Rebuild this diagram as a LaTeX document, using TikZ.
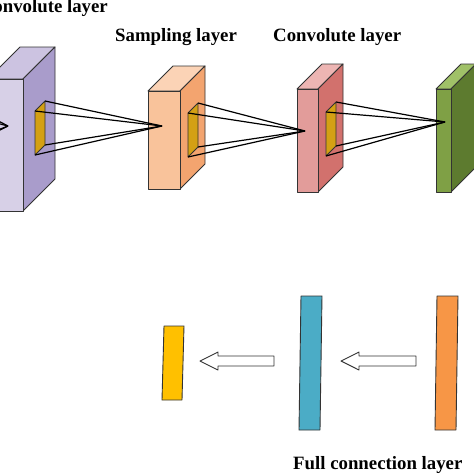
\documentclass[tikz,border=0pt]{standalone}
\usepackage{fontspec}
\setmainfont{Liberation Serif}

\definecolor{convafront}{HTML}{D7D0E7}
\definecolor{convaside}{HTML}{A99CCB}
\definecolor{convatop}{HTML}{CCC3E1}
\definecolor{poolfront}{HTML}{F9C39B}
\definecolor{poolside}{HTML}{F3A46F}
\definecolor{pooltop}{HTML}{FBD3B6}
\definecolor{convbfront}{HTML}{E29C9A}
\definecolor{convbside}{HTML}{D2716D}
\definecolor{convbtop}{HTML}{EDB5B3}
\definecolor{convcfront}{HTML}{7FA045}
\definecolor{convcside}{HTML}{5D7B2F}
\definecolor{convctop}{HTML}{A0C168}
\definecolor{win}{HTML}{D4A014}
\definecolor{fcyellow}{HTML}{FFC000}
\definecolor{fcblue}{HTML}{4BACC6}
\definecolor{fcorange}{HTML}{F79646}

\begin{document}
\begin{tikzpicture}
  [x=1pt,y=-1pt
  ,edge/.style={draw=black!80,line width=0.9pt,line join=round}
  ,ray/.style={draw=black,line width=1.2pt}
  ,title/.style={font=\fontsize{18.8}{22}\selectfont\bfseries,inner sep=0pt}
  ]

  \useasboundingbox (0,0) rectangle (474,474);
  \clip (0,0) rectangle (474,474);

  % Feature map block
  %
  % #1 - front left x
  % #2 - front right x
  % #3 - top y
  % #4 - bottom y
  % #5 - depth
  % #6 - colour prefix
  \newcommand{\fblock}[6]{
    \path[edge,fill=#6top] (#1,#3) -- ++(#5,-#5) -- (#2+#5,#3-#5) -- (#2,#3) -- cycle;
    \path[edge,fill=#6side] (#2,#3) -- (#2+#5,#3-#5) -- (#2+#5,#4-#5) -- (#2,#4) -- cycle;
    \path[edge,fill=#6front] (#1,#3) rectangle (#2,#4);
  }

  % Receptive window
  %
  % #1 - name
  % #2 - left x
  % #3 - top y
  \newcommand{\rwindow}[3]{
    \coordinate (#1-a) at (#2+10,#3-10);
    \coordinate (#1-b) at (#2,#3);
    \coordinate (#1-c) at (#2+10,#3+34);
    \coordinate (#1-d) at (#2,#3+44);
    \path[edge,fill=win] (#1-b) -- (#1-a) -- (#1-c) -- (#1-d) -- cycle;
  }

  % Full connection bar
  %
  % #1 - left x at top
  % #2 - top y
  % #3 - bottom y
  % #4 - width
  % #5 - colour
  \newcommand{\fcbar}[5]{
    \path[edge,fill=#5] (#1,#2) -- (#1+#4,#2) -- (#1+#4-2,#3) -- (#1-2,#3) -- cycle;
  }

  % Hollow arrow
  %
  % #1 - tip x
  % #2 - tail x
  \newcommand{\harrow}[2]{
    \path[edge,fill=white] (#1,361) -- (#1+18,352) -- (#1+18,356) -- (#2,356)
      -- (#2,366) -- (#1+18,366) -- (#1+18,370) -- cycle;
  }

  % convolute
  \fblock{-12}{23}{79}{211}{32}{conva}

  % sampling
  \fblock{148}{180}{91}{189}{25}{pool}

  % convolute
  \fblock{297}{318}{89}{192}{25}{convb}

  % convolute
  \fblock{436}{451}{89}{192}{25}{convc}

  % windows
  \rwindow{w0}{-50}{111}
  \rwindow{w1}{35}{111}
  \rwindow{w2}{188}{113}
  \rwindow{w3}{326}{112}

  % apexes
  \coordinate (p1) at (8,126);
  \coordinate (p2) at (162,126);
  \coordinate (p3) at (305,131);
  \coordinate (p4) at (445,122);

  % rays
  \foreach \c in {a,b,c,d} {
    \draw[ray] (w0-\c) -- (p1);
    \draw[ray] (w1-\c) -- (p2);
    \draw[ray] (w2-\c) -- (p3);
    \draw[ray] (w3-\c) -- (p4);
  }

  % full connection
  \fcbar{164}{326}{400}{20}{fcyellow}
  \fcbar{301}{296}{430}{21}{fcblue}
  \fcbar{437}{296}{430}{21}{fcorange}

  \harrow{200}{274}
  \harrow{341}{416}

  % labels
  \node[title,anchor=base east] (conva) at (108,12.5) {Convolute layer};
  \node[title,anchor=base west] (pool) at (115,41) {Sampling layer};
  \node[title,anchor=base west] (convb) at (273,41) {Convolute layer};
  \node[title,anchor=base west] (fc) at (293,469) {Full connection layer};

\end{tikzpicture}
\end{document}
